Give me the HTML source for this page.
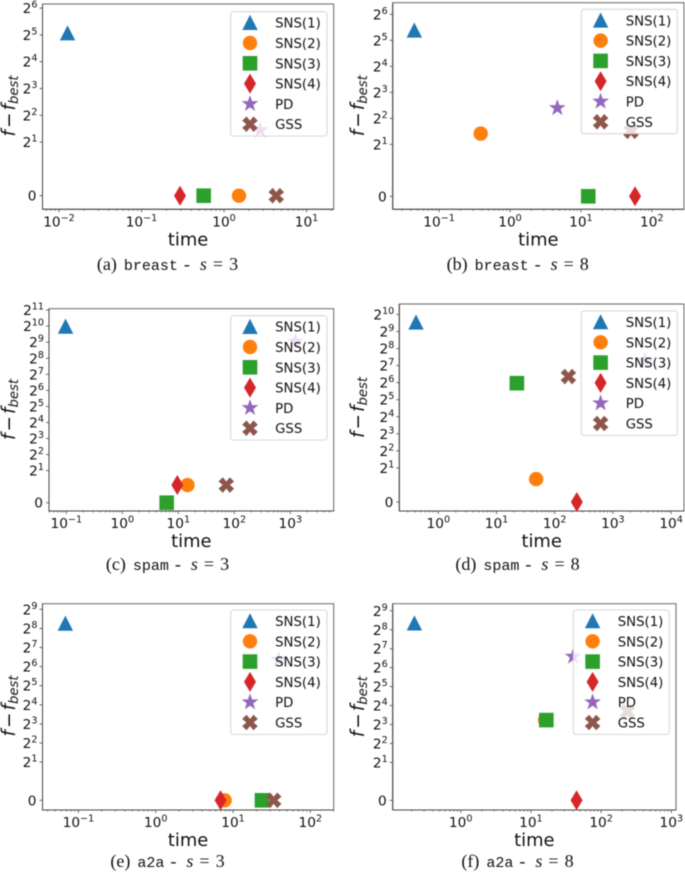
<!DOCTYPE html>
<html>
<head>
<meta charset="utf-8">
<title>Time versus optimality gap</title>
<style>
html,body{margin:0;padding:0;background:#fff;width:685px;height:873px;overflow:hidden}
svg{display:block;filter:blur(0.45px)}
text{font-family:"DejaVu Sans","Liberation Sans",sans-serif;fill:#111}
</style>
</head>
<body>
<svg id="chart" xmlns="http://www.w3.org/2000/svg" width="685" height="873" viewBox="0 0 685 873"></svg>
<script>
const seriesNames = ['SNS(1)', 'SNS(2)', 'SNS(3)', 'SNS(4)', 'PD', 'GSS'];
const seriesColors = ['#1f77b4', '#ff7f0e', '#2ca02c', '#d62728', '#9467bd', '#8c564b'];
const seriesShapes = ['triangle', 'circle', 'square', 'diamond', 'star', 'cross'];

const timesA = [0.0127, 1.52, 0.567, 0.293, 2.75, 4.3];
const gapsA = [33.5, 0, 0, 0, 2.73, 0];
const timesB = [0.0447, 0.386, 12.7, 58, 4.65, 51];
const gapsB = [41.8, 2.66, 0, 0, 5.27, 2.83];
const timesC = [0.097, 14.6, 6.2, 9.6, 1230, 72];
const gapsC = [1010, 1.1, 0, 1.1, 530, 1.1];
const timesD = [0.414, 48, 22.4, 240, 3550, 172];
const gapsD = [744, 1.345, 62.6, 0, 156, 82];
const timesE = [0.0678, 7.8, 23.7, 6.9, 39, 33.6];
const gapsE = [306, 0, 0, 0, 83, 0];
const timesF = [0.219, 15.9, 16.6, 44.7, 40, 237];
const gapsF = [326, 9.4, 9.4, 0, 96, 12.8];

const xTickExpA = [-2, -1, 0, 1];
const xTickExpB = [-1, 0, 1, 2];
const xTickExpC = [-1, 0, 1, 2, 3];
const xTickExpD = [0, 1, 2, 3, 4];
const xTickExpE = [-1, 0, 1, 2];
const xTickExpF = [0, 1, 2, 3];

const yTickExpA = [1, 2, 3, 4, 5, 6];
const yTickExpB = [1, 2, 3, 4, 5, 6];
const yTickExpC = [1, 2, 3, 4, 5, 6, 7, 8, 9, 10, 11];
const yTickExpD = [1, 2, 3, 4, 5, 6, 7, 8, 9, 10];
const yTickExpE = [1, 2, 3, 4, 5, 6, 7, 8, 9];
const yTickExpF = [1, 2, 3, 4, 5, 6, 7, 8, 9];

const panels = [
  {id:'a', dataset:'breast', s:3, times:timesA, gaps:gapsA, xt:xTickExpA, yt:yTickExpA,
   L:42.5, R:333.7, T:4, B:209.3, x0:224, xd:82.5, y0:195.7, yd:26.8,
   lx:230.7, ly:11.7, lw:96.3, ylab:15, ylabY:106, capX:167.5, capY:270},
  {id:'b', dataset:'breast', s:8, times:timesB, gaps:gapsB, xt:xTickExpB, yt:yTickExpB,
   L:392.7, R:684, T:2.7, B:209.3, x0:510, xd:70.9, y0:196.3, yd:26,
   lx:581.3, ly:9.3, lw:96, ylab:364, ylabY:105.7, capX:517.7, capY:270},
  {id:'c', dataset:'spam', s:3, times:timesC, gaps:gapsC, xt:xTickExpC, yt:yTickExpC,
   L:49, R:333.7, T:308.7, B:511, x0:122.3, xd:56, y0:502.7, yd:16.05,
   lx:230.7, ly:315.7, lw:96.3, ylab:15, ylabY:409.5, capX:167.5, capY:570},
  {id:'d', dataset:'spam', s:8, times:timesD, gaps:gapsD, xt:xTickExpD, yt:yTickExpD,
   L:399.3, R:684, T:304, B:511, x0:438.3, xd:58.2, y0:502, yd:17.05,
   lx:581.3, ly:311, lw:96, ylab:364, ylabY:407.5, capX:517.5, capY:570},
  {id:'e', dataset:'a2a', s:3, times:timesE, gaps:gapsE, xt:xTickExpE, yt:yTickExpE,
   L:42.5, R:333.7, T:603.7, B:810, x0:155.7, xd:77.3, y0:800.3, yd:19.1,
   lx:230.7, ly:610, lw:96.3, ylab:15, ylabY:706, capX:167.5, capY:867},
  {id:'f', dataset:'a2a', s:8, times:timesF, gaps:gapsF, xt:xTickExpF, yt:yTickExpF,
   L:392.7, R:676, T:603.7, B:810, x0:460.7, xd:70.2, y0:800.3, yd:18.95,
   lx:573.3, ly:610, lw:96, ylab:364, ylabY:706.7, capX:517.5, capY:867}
];

const NS = 'http://www.w3.org/2000/svg';
const root = document.getElementById('chart');
function make(tag, parent, props, txt) {
  const n = document.createElementNS(NS, tag);
  for (const k in props) n.setAttribute(k, props[k]);
  if (txt !== undefined) n.textContent = txt;
  parent.appendChild(n);
  return n;
}
function xScale(p, t) { return p.x0 + Math.log10(t) * p.xd; }
function yScale(p, v) { return v <= 2 ? p.y0 - v * p.yd : p.y0 - (Math.log2(v) + 1) * p.yd; }
function yExpPos(p, e) { return p.y0 - (e + 1) * p.yd; }
function starPath() {
  let d = '';
  for (let i = 0; i < 10; i++) {
    const r = i % 2 ? 3.5 : 8.8;
    const a = -Math.PI / 2 + i * Math.PI / 5;
    d += (i ? 'L' : 'M') + (r * Math.cos(a)).toFixed(2) + ' ' + (r * Math.sin(a)).toFixed(2);
  }
  return d + 'Z';
}
const shapePaths = {
  triangle: 'M0 -7.8L7.7 7.3L-7.7 7.3Z',
  circle: 'M-7.2 0A7.2 7.2 0 1 0 7.2 0A7.2 7.2 0 1 0 -7.2 0Z',
  square: 'M-7.3 -7.3H7.3V7.3H-7.3Z',
  diamond: 'M0 -10L6 0L0 10L-6 0Z',
  star: starPath(),
  cross: 'M-7.8 -3.5L-3.5 -7.8L0 -3.6L3.5 -7.8L7.8 -3.5L3.6 0L7.8 3.5L3.5 7.8L0 3.6L-3.5 7.8L-7.8 3.5L-3.6 0Z'
};
function fmtExp(e) { return String(e).replace('-', '\u2212'); }

panels.forEach(function (p) {
  const g = make('g', root, {});
  
  

  const frame = make('rect', g, {x:p.L, y:p.T, width:p.R - p.L, height:p.B - p.T, fill:'#fff', stroke:'#666', 'stroke-width':1});
  
  
  const axisLeft = make('line', g, {x1:p.L, x2:p.L, y1:p.T, y2:p.B, stroke:'#444', 'stroke-width':1});
  
  
  const axisBottom = make('line', g, {x1:p.L, x2:p.R, y1:p.B, y2:p.B, stroke:'#444', 'stroke-width':1});
  
  

  // x minor ticks across each visible decade
  const firstDecade = Math.floor((p.L - p.x0) / p.xd);
  const lastDecade = Math.ceil((p.R - p.x0) / p.xd);
  for (let d = firstDecade; d <= lastDecade; d++) {
    for (let m = 2; m <= 9; m++) {
      const mx = xScale(p, m * Math.pow(10, d));
      if (mx < p.L || mx > p.R) continue;
      const minor = make('line', g, {x1:mx, x2:mx, y1:p.B, y2:p.B + 1.6, stroke:'#444', 'stroke-width':0.6});
      
      
    }
  }

  // x major ticks
  p.xt.forEach(function (e) {
    const tx = xScale(p, Math.pow(10, e));
    const tick = make('line', g, {x1:tx, x2:tx, y1:p.B, y2:p.B + 3, stroke:'#444', 'stroke-width':0.8});
    
    
    const lab = make('text', g, {x:tx, y:p.B + 17.2, 'text-anchor':'middle', 'font-size':13.7});
    
    
    make('tspan', lab, {}, '10');
    make('tspan', lab, {dy:-5.5, 'font-size':9.6}, fmtExp(e));
  });

  // y ticks: zero plus powers of two
  const zeroTick = make('line', g, {x1:p.L - 3, x2:p.L, y1:p.y0, y2:p.y0, stroke:'#444', 'stroke-width':0.8});
  
  
  const zeroLab = make('text', g, {x:p.L - 6, y:p.y0 + 5, 'text-anchor':'end', 'font-size':13.7}, '0');
  
  
  p.yt.forEach(function (e) {
    const ty = yExpPos(p, e);
    const tick = make('line', g, {x1:p.L - 3, x2:p.L, y1:ty, y2:ty, stroke:'#444', 'stroke-width':0.8});
    
    
    const lab = make('text', g, {x:p.L - 5, y:ty + 5, 'text-anchor':'end', 'font-size':13.7});
    
    
    make('tspan', lab, {}, '2');
    make('tspan', lab, {dy:-5.5, 'font-size':9.6}, String(e));
  });

  // axis titles
  const xTitle = make('text', g, {x:(p.L + p.R) / 2, y:p.B + 36, 'text-anchor':'middle', 'font-size':17.9}, 'time');
  
  
  const yTitle = make('text', g, {transform:'translate(' + p.ylab + ' ' + p.ylabY + ') rotate(-90)', 'text-anchor':'middle', 'font-size':18.5, 'font-style':'italic'});
  
  
  make('tspan', yTitle, {}, 'f');
  make('tspan', yTitle, {'font-style':'normal', dx:2}, '\u2212');
  make('tspan', yTitle, {dx:2}, 'f');
  make('tspan', yTitle, {dy:3, 'font-size':13.2}, 'best');

  // markers
  p.times.forEach(function (t, i) {
    const mark = make('path', g, {d:shapePaths[seriesShapes[i]], fill:seriesColors[i], transform:'translate(' + xScale(p, t).toFixed(2) + ' ' + yScale(p, p.gaps[i]).toFixed(2) + ')'});
    
    
  });

  // legend
  const leg = make('g', g, {});
  
  
  const box = make('rect', leg, {x:p.lx, y:p.ly, width:p.lw, height:124.4, rx:2.5, fill:'#fff', 'fill-opacity':0.8, stroke:'#ccc', 'stroke-width':0.8});
  
  
  seriesNames.forEach(function (name, i) {
    const ey = p.ly + 11 + i * 20.3;
    const key = make('path', leg, {d:shapePaths[seriesShapes[i]], fill:seriesColors[i], transform:'translate(' + (p.lx + 19.3) + ' ' + ey + ')'});
    
    
    const lab = make('text', leg, {x:p.lx + 44.4, y:ey + 5, 'font-size':13.3}, name);
    
    
  });

  // caption
  const serif = '"Liberation Serif",serif';
  const cap = make('text', g, {x:p.capX, y:p.capY, 'text-anchor':'middle', 'font-size':18, style:'font-family:' + serif});
  
  
  make('tspan', cap, {}, '(' + p.id + ')');
  make('tspan', cap, {dx:7, style:'font-family:"Liberation Mono",monospace', 'font-size':15}, p.dataset);
  make('tspan', cap, {dx:6}, '-');
  make('tspan', cap, {dx:10, 'font-style':'italic'}, 's');
  make('tspan', cap, {dx:6}, '=');
  make('tspan', cap, {dx:6}, String(p.s));
});
</script>
</body>
</html>
